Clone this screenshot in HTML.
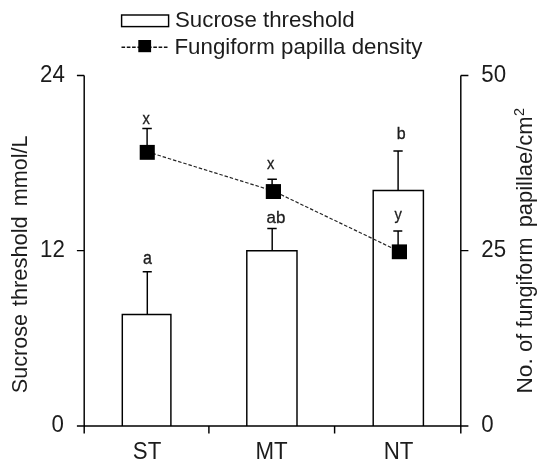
<!DOCTYPE html>
<html><head><meta charset="utf-8"><title>Chart</title>
<style>
html,body{margin:0;padding:0;background:#fff;}
svg{display:block;}
text{font-family:"Liberation Sans",sans-serif;fill:#1c1c1c;}
.ax{stroke:#000;stroke-width:1.45;fill:none;}
.bar{stroke:#000;stroke-width:1.45;fill:#fff;}
.dash{fill:none;stroke:#262626;stroke-width:1.2;stroke-dasharray:3.5 1.9;}
</style></head>
<body>
<svg width="550" height="472" viewBox="0 0 550 472">
<rect x="0" y="0" width="550" height="472" fill="#fff"/>
<!-- legend -->
<rect class="bar" x="121.6" y="15" width="47" height="11.6"/>
<text transform="translate(175 26.8) scale(1.0 1.02)" font-size="22.3" text-anchor="start">Sucrose threshold</text>
<line x1="121.5" y1="47.3" x2="169.1" y2="47.3" stroke="#111" stroke-width="1.5" stroke-dasharray="3.6 1.7"/>
<rect x="138.3" y="40" width="12.8" height="12.2" fill="#000"/>
<text transform="translate(174.5 53.5) scale(1.0 1.02)" font-size="22.3" text-anchor="start">Fungiform papilla density</text>
<!-- bars -->
<path class="bar" d="M122.3 425.9V314.5H170.9V425.9"/>
<path class="bar" d="M246.8 425.9V250.7H297V425.9"/>
<path class="bar" d="M373.2 425.9V190.5H423.4V425.9"/>
<!-- bar error bars -->
<path class="ax" d="M147.3 314.5V271.8M142.7 271.8H151.8"/>
<path class="ax" d="M272.2 250.7V228.4M267.3 228.4H276.7"/>
<path class="ax" d="M398.1 190.5V151M393.4 151H402.7"/>
<!-- axes -->
<path class="ax" d="M84.2 75.4V433.6M76.9 75.4H84.2M76.9 250.6H84.2M76.9 425.9H468.4M460.8 75.4V433.6M460.8 75.4H468.4M460.8 250.6H468.4M208.9 425.9V433.6M334.6 425.9V433.6"/>
<!-- dashed series line -->
<path class="dash" d="M147.2 151.8L273.4 191.0L399.4 251.5"/>
<!-- marker error bars -->
<path class="ax" d="M147.1 150V128.5M142.3 128.5H151.8"/>
<path class="ax" d="M272.1 190V179.3M267.4 179.3H276.9"/>
<path class="ax" d="M398.1 250V231M393.3 231H402.3"/>
<!-- markers -->
<rect x="139.7" y="144.9" width="15.1" height="14.9" fill="#000"/>
<rect x="265.8" y="184.1" width="15.2" height="14.9" fill="#000"/>
<rect x="391.8" y="244.4" width="15.2" height="14.8" fill="#000"/>
<!-- significance letters -->
<text transform="translate(146.3 123.6) scale(0.92 1.06)" font-size="16" text-anchor="middle" stroke="#1c1c1c" stroke-width="0.3">x</text>
<text transform="translate(270.7 168.7) scale(0.92 1.06)" font-size="16" text-anchor="middle" stroke="#1c1c1c" stroke-width="0.3">x</text>
<text transform="translate(398.2 220) scale(0.92 1.06)" font-size="16" text-anchor="middle" stroke="#1c1c1c" stroke-width="0.3">y</text>
<text transform="translate(147.4 263.6) scale(1.0 1.1)" font-size="16" text-anchor="middle" stroke="#1c1c1c" stroke-width="0.3">a</text>
<text transform="translate(275.9 223.4) scale(1.06 1.06)" font-size="16" text-anchor="middle" stroke="#1c1c1c" stroke-width="0.3">ab</text>
<text transform="translate(401.3 138.7) scale(1.0 1.06)" font-size="16" text-anchor="middle" stroke="#1c1c1c" stroke-width="0.3">b</text>
<!-- tick labels -->
<text transform="translate(64.9 82.0) scale(1.0 1.045)" font-size="22.3" text-anchor="end">24</text>
<text transform="translate(64.9 257.1) scale(1.0 1.045)" font-size="22.3" text-anchor="end">12</text>
<text transform="translate(63.8 432.4) scale(1.0 1.045)" font-size="22.3" text-anchor="end">0</text>
<text transform="translate(481.3 81.8) scale(1.0 1.045)" font-size="22.3" text-anchor="start">50</text>
<text transform="translate(481.3 256.6) scale(1.0 1.045)" font-size="22.3" text-anchor="start">25</text>
<text transform="translate(481.3 432.2) scale(1.0 1.045)" font-size="22.3" text-anchor="start">0</text>
<text transform="translate(147 458.8) scale(1.0 1.045)" font-size="22.3" text-anchor="middle">ST</text>
<text transform="translate(271.6 458.8) scale(1.0 1.045)" font-size="22.3" text-anchor="middle">MT</text>
<text transform="translate(398.6 458.8) scale(1.0 1.045)" font-size="22.3" text-anchor="middle">NT</text>
<!-- axis titles -->
<g class="ytitle">
<text transform="translate(27.4 393.18) rotate(-90) scale(0.9818 1.03)" font-size="22.0">Sucrose</text>
<text transform="translate(27.4 306.13) rotate(-90) scale(0.9938 1.03)" font-size="22.0">threshold</text>
<text transform="translate(27.4 206.13) rotate(-90) scale(0.9781 1.03)" font-size="22.0">mmol/L</text>
</g>
<g class="y2title">
<text transform="translate(531.8 393.57) rotate(-90) scale(1.0354 1.03)" font-size="22.0">No.</text>
<text transform="translate(531.8 351.91) rotate(-90) scale(0.9853 1.03)" font-size="22.0">of</text>
<text transform="translate(531.8 327.51) rotate(-90) scale(0.9828 1.03)" font-size="22.0">fungiform</text>
<text transform="translate(531.8 227.31) rotate(-90) scale(0.9962 1.03)" font-size="22.0">papillae/cm<tspan dx="0.5" dy="-7.1" font-size="14.5">2</tspan></text>
</g>
</svg>
</body></html>
